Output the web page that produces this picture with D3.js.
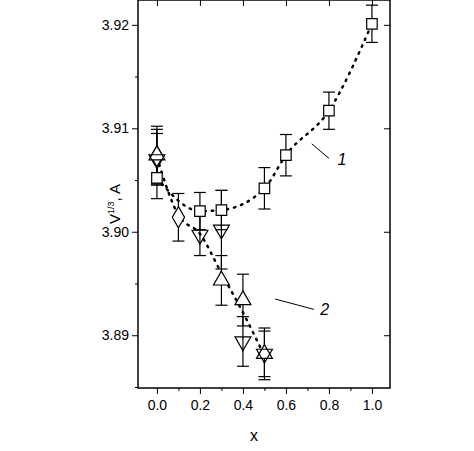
<!DOCTYPE html>
<html><head><meta charset="utf-8">
<script src="https://cdn.jsdelivr.net/npm/d3@7"></script>
<style>body{margin:0;background:#fff}text{font-family:Arial,"Liberation Sans",sans-serif}</style>
</head><body><div id="chart"></div>
<script>
// series 1: squares
let sqX = [0, 0.2, 0.3, 0.5, 0.6, 0.8, 1.0]
let sqY = [3.9052, 3.9020, 3.9021, 3.9042, 3.9074, 3.9117, 3.9201]
let sqErr = [0.0020, 0.0018, 0.0019, 0.0020, 0.0020, 0.0018, 0.0018]
// up triangles
let upX = [0, 0.3, 0.4, 0.5]
let upY = [3.9074, 3.8953, 3.8934, 3.8882]
let upErr = [0.0028, 0.0024, 0.0025, 0.0025]
// down triangles
let dnX = [0, 0.2, 0.3, 0.4, 0.5]
let dnY = [3.9070, 3.8997, 3.9002, 3.8894, 3.8882]
let dnErr = [0.0025, 0.0020, 0.0038, 0.0024, 0.0022]
// diamonds
let diX = [0, 0.1]
let diY = [3.9073, 3.9014]
let diErr = [0.0026, 0.0023]
// curve 2 mean path
let c2X = [0, 0.1, 0.2, 0.3, 0.4, 0.5]
let c2Y = [3.9072, 3.9016, 3.8998, 3.8960, 3.8922, 3.8880]
let xTicks = [0, 0.2, 0.4, 0.6, 0.8, 1.0]
let yTicks = [3.89, 3.90, 3.91, 3.92]

let width = 474, height = 451
let margin = {top: 0, left: 138, right: 84, bottom: 63}
let svg = d3.select("#chart").append("svg").attr("width", width).attr("height", height)
let x = d3.scaleLinear().domain([-0.088, 1.084]).range([margin.left, width - margin.right])
let y = d3.scaleLinear().domain([3.8849, 3.9224]).range([height - margin.bottom, margin.top])
let x0 = x.range()[0], x1 = x.range()[1], y0 = y.range()[0], y1 = y.range()[1]

svg.append("rect").attr("x", x0).attr("y", y1).attr("width", x1 - x0).attr("height", y0 - y1)
    .attr("fill", "none").attr("stroke", "black").attr("stroke-width", 1.5)

svg.append("g").attr("transform", `translate(0,${y0})`)
    .call(d3.axisBottom(x).tickValues(xTicks).tickFormat(d3.format(".1f")).tickSize(6).tickSizeOuter(0))
    .call(g => g.select(".domain").remove())
    .selectAll("text").attr("font-size", 14).attr("dy", "0.9em")
svg.append("g").attr("transform", `translate(0,${y0})`)
    .call(d3.axisBottom(x).tickValues(d3.range(0.1, 1.01, 0.2)).tickFormat("").tickSize(3).tickSizeOuter(0))
    .call(g => g.select(".domain").remove())
svg.append("g").attr("transform", `translate(0,${y1})`)
    .call(d3.axisBottom(x).tickValues(xTicks).tickFormat("").tickSize(6).tickSizeOuter(0))
    .call(g => g.select(".domain").remove())
svg.append("g").attr("transform", `translate(${x0},0)`)
    .call(d3.axisLeft(y).tickValues(yTicks).tickFormat(d3.format(".2f")).tickSize(6).tickSizeOuter(0))
    .call(g => g.select(".domain").remove())
    .selectAll("text").attr("font-size", 14)
svg.append("g").attr("transform", `translate(${x0},0)`)
    .call(d3.axisLeft(y).tickValues([3.885, 3.895, 3.905, 3.915]).tickFormat("").tickSize(3).tickSizeOuter(0))
    .call(g => g.select(".domain").remove())
svg.append("g").attr("transform", `translate(${x1},0)`)
    .call(d3.axisLeft(y).tickValues(yTicks).tickFormat("").tickSize(6).tickSizeOuter(0))
    .call(g => g.select(".domain").remove())

svg.append("text").attr("x", (x0 + x1) / 2 - 10).attr("y", 441).attr("text-anchor", "middle")
    .attr("font-size", 16).text("x")
let yl = svg.append("text").attr("transform", `translate(120,${(y0 + y1) / 2 + 30}) rotate(-90)`)
    .attr("font-size", 15)
yl.append("tspan").text("V")
yl.append("tspan").attr("font-size", 9).attr("dy", -6).text("1/3")
yl.append("tspan").attr("dy", 6).text(", A")

// dotted curves
let line = d3.line().curve(d3.curveMonotoneX).x(d => x(d[0])).y(d => y(d[1]))
svg.append("path").attr("d", line(sqX.map((v, i) => [v, sqY[i]])))
    .attr("fill", "none").attr("stroke", "black").attr("stroke-width", 2.5)
    .attr("stroke-dasharray", "1.5,6").attr("stroke-linecap", "round")
svg.append("path").attr("d", line(c2X.map((v, i) => [v, c2Y[i]])))
    .attr("fill", "none").attr("stroke", "black").attr("stroke-width", 2.5)
    .attr("stroke-dasharray", "1.5,6").attr("stroke-linecap", "round")

function errBars(xs, ys, es) {
    let d = xs.map((v, i) => ({x: v, y: ys[i], e: es[i]}))
    let g = svg.append("g").attr("stroke", "black").attr("stroke-width", 1.2)
    d.forEach(p => {
        g.append("line").attr("x1", x(p.x)).attr("x2", x(p.x)).attr("y1", y(p.y - p.e)).attr("y2", y(p.y + p.e))
        ;[p.y - p.e, p.y + p.e].forEach(v => g.append("line").attr("x1", x(p.x) - 6).attr("x2", x(p.x) + 6)
            .attr("y1", y(v)).attr("y2", y(v)))
    })
}
errBars(sqX, sqY, sqErr)
errBars(upX, upY, upErr)
errBars(dnX, dnY, dnErr)
errBars(diX, diY, diErr)

function markers(xs, ys, type, size) {
    svg.append("g").selectAll("path").data(xs.map((v, i) => [v, ys[i]])).enter().append("path")
        .attr("d", d3.symbol().type(type).size(size))
        .attr("transform", d => `translate(${x(d[0])},${y(d[1])})${type === "down" ? " rotate(180)" : ""}`)
        .attr("fill", "white").attr("stroke", "black").attr("stroke-width", 1.2)
}
markers(sqX, sqY, d3.symbolSquare, 110)
markers(diX, diY, d3.symbolDiamond, 130)
markers(upX, upY, d3.symbolTriangle, 110)
svg.append("g").selectAll("path").data(dnX.map((v, i) => [v, dnY[i]])).enter().append("path")
    .attr("d", d3.symbol().type(d3.symbolTriangle).size(110))
    .attr("transform", d => `translate(${x(d[0])},${y(d[1])}) rotate(180)`)
    .attr("fill", "none").attr("stroke", "black").attr("stroke-width", 1.2)

// labels with leaders
svg.append("line").attr("x1", x(0.72)).attr("y1", y(3.9085)).attr("x2", x(0.8)).attr("y2", y(3.9071))
    .attr("stroke", "black")
svg.append("text").attr("x", x(0.84)).attr("y", y(3.9065)).attr("font-size", 16)
    .attr("font-style", "italic").text("1")
svg.append("line").attr("x1", x(0.55)).attr("y1", y(3.8935)).attr("x2", x(0.73)).attr("y2", y(3.8925))
    .attr("stroke", "black")
svg.append("text").attr("x", x(0.76)).attr("y", y(3.892)).attr("font-size", 16)
    .attr("font-style", "italic").text("2")
</script></body></html>
